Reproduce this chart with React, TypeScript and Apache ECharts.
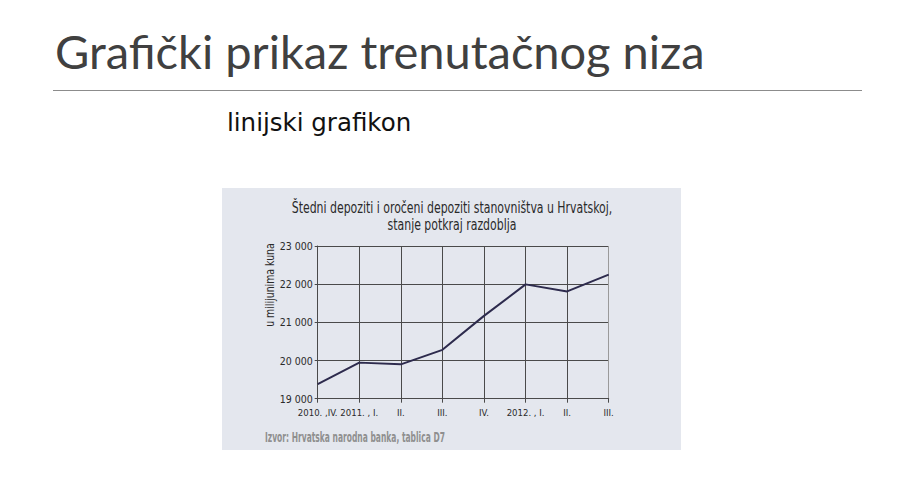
import React, { useEffect, useRef } from "react";
import * as echarts from "echarts";

const categories = ["2010. ,IV.", "2011. , I.", "II.", "III.", "IV.", "2012. , I.", "II.", "III."];
const deposits = [19380, 19945, 19900, 20280, 21170, 21995, 21810, 22250];
const yTicks = { min: 19000, max: 23000, interval: 1000 };

const slideTitle = "Grafički prikaz trenutačnog niza";
const slideSubtitle = "linijski grafikon";
const chartTitle = "Štedni depoziti i oročeni depoziti stanovništva u Hrvatskoj,\nstanje potkraj razdoblja";
const yName = "u milijunima kuna";
const sourceText = "Izvor: Hrvatska narodna banka, tablica D7";

const condensed = "'DejaVu Sans Condensed', 'DejaVu Sans', sans-serif";

export default function App() {
  const ref = useRef<HTMLDivElement>(null);
  useEffect(() => {
    if (!ref.current) return;
    const chart = echarts.init(ref.current, undefined, { renderer: "svg" });
    const fmt = (v: number) => {
      const s = String(Math.round(v));
      return s.length > 3 ? s.slice(0, s.length - 3) + " " + s.slice(-3) : s;
    };
    chart.setOption({
      animation: false,
      backgroundColor: "#ffffff",
      graphic: [
        { type: "rect", z: -100, shape: { x: 222, y: 188, width: 459, height: 262 }, style: { fill: "#e4e7ee" } },
        { type: "text", x: 55, y: 27, style: { text: slideTitle, fill: "#404040", font: "47px Lato, 'Open Sans', sans-serif", textVerticalAlign: "top" } },
        { type: "line", shape: { x1: 53, y1: 90.5, x2: 862, y2: 90.5 }, style: { stroke: "#8c8c8c", lineWidth: 1 } },
        { type: "text", x: 227, y: 110, style: { text: slideSubtitle, fill: "#111", font: "24.5px 'Comic Sans MS', 'DejaVu Sans', sans-serif", textVerticalAlign: "top" } },
        { type: "text", x: 452, y: 216, scaleX: 0.81, style: { text: chartTitle, fill: "#2a2a2a", font: "15px " + condensed, textAlign: "center", textVerticalAlign: "middle", lineHeight: 17 } },
        { type: "text", x: 270, y: 285, rotation: Math.PI / 2, scaleX: 0.87, style: { text: yName, fill: "#2a2a2a", font: "12px " + condensed, textAlign: "center", textVerticalAlign: "middle" } },
        { type: "text", x: 265, y: 437, scaleX: 0.6, style: { text: sourceText, fill: "#8f8f8f", font: "bold 14px " + condensed, textAlign: "left", textVerticalAlign: "middle" } },
      ],
      grid: { left: 317.7, right: 299.3, top: 246, bottom: 84.3, containLabel: false },
      xAxis: {
        type: "category",
        data: categories,
        boundaryGap: false,
        axisLine: { show: true, lineStyle: { color: "#4a4a4a", width: 1 } },
        axisTick: { show: true, length: 4, lineStyle: { color: "#4a4a4a" } },
        axisLabel: { color: "#2a2a2a", fontSize: 9.5, fontFamily: condensed, margin: 9, interval: 0 },
        splitLine: { show: true, lineStyle: { color: ["#4a4a4a", "#4a4a4a", "#4a4a4a", "#4a4a4a", "#4a4a4a", "#4a4a4a", "#4a4a4a", "#9a9a9a"], width: 1 } },
      },
      yAxis: {
        type: "value",
        min: yTicks.min,
        max: yTicks.max,
        interval: yTicks.interval,
        axisLine: { show: true, lineStyle: { color: "#4a4a4a", width: 1 } },
        axisTick: { show: true, length: 3, lineStyle: { color: "#4a4a4a" } },
        axisLabel: { color: "#2a2a2a", fontSize: 10.5, fontFamily: condensed, margin: 5, formatter: fmt },
        splitLine: { show: true, lineStyle: { color: "#4a4a4a", width: 1 } },
      },
      series: [
        {
          type: "line",
          data: deposits,
          symbol: "none",
          lineStyle: { color: "#2d2b4d", width: 2 },
          z: 5,
        },
      ],
    });
    return () => chart.dispose();
  }, []);
  return <div ref={ref} style={{ position: "fixed", left: 0, top: 0, width: 908, height: 483 }} />;
}
